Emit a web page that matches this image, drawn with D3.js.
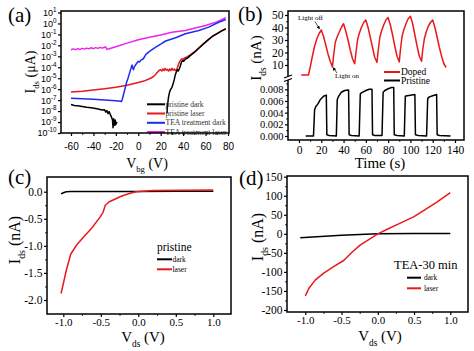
<!DOCTYPE html>
<html><head><meta charset="utf-8">
<script src="https://cdn.jsdelivr.net/npm/d3@7"></script>
<style>body{margin:0;background:#fff} svg{display:block}</style>
</head><body><svg id="c" width="474" height="351"></svg>
<script>
// ---------------- DATA ----------------
// Panel (a): Ids (µA) vs Vbg (V), log scale
const aXTicks = [-60,-40,-20,0,20,40,60,80];
const aXMinor = [-50,-30,-10,10,30,50,70];
const aYExp = [-10,-9,-8,-7,-6,-5,-4,-3,-2,-1,0,1];
const aPristineDarkNeg = [[-60,4e-8],[-57,3.3e-8],[-54,3e-8],[-50,2.6e-8],[-46,2.2e-8],[-42,2e-8],[-38,1.7e-8],[-35,1.5e-8],[-32,1.25e-8],[-30,1.3e-8],[-29,8e-9],[-28,1.1e-8],[-27,6e-9],[-26,9e-9],[-25,5e-9],[-24,3e-9],[-23,1.5e-9],[-22.5,3e-10],[-22,2e-9],[-21,5e-10],[-20.5,1.5e-9],[-20,6e-10],[-19,1e-9]];
const aPristineDarkPos = [[25.6,6e-9],[26,3e-8],[27,2e-7],[28,6e-7],[29,1e-6],[30,1.5e-6],[31,3e-6],[32,7e-6],[33,2e-5],[34,4e-5],[35,6e-5],[35.7,4.5e-5],[36.5,7e-5],[37.5,1.3e-4],[38.5,3e-4],[39.5,4e-4],[40.5,3.5e-4],[42,5.5e-4],[44,7e-4],[46,1.1e-3],[50,2.3e-3],[54,5.5e-3],[58,1.3e-2],[62,3e-2],[66,6.5e-2],[70,1.1e-1],[74,2e-1],[78,3.2e-1]];
const aPristineLaser = [[-60,5.5e-7],[-50,6.5e-7],[-40,8.5e-7],[-30,1.1e-6],[-20,1.5e-6],[-10,2.3e-6],[0,4e-6],[5,5.5e-6],[10,9e-6],[13,1.3e-5],[15,2e-5],[17,3.5e-5],[19,5.5e-5],[20,6e-5],[21,4.5e-5],[22,7e-5],[23,5e-5],[24,8e-5],[25,5.5e-5],[26,6.5e-5],[27,4.5e-5],[28,7e-5],[29,5e-5],[30,8e-5],[31,5.5e-5],[32,7e-5],[33,5e-5],[34,6e-5],[35,1e-4],[36,2e-4],[37,3.5e-4],[38,5e-4],[39,6e-4],[40,5e-4],[41,7e-4],[43,8.5e-4],[46,1.3e-3],[50,2.5e-3],[54,6e-3],[58,1.4e-2],[62,3e-2],[66,6.5e-2],[70,1.2e-1],[74,2e-1],[78,3.3e-1]];
const aTeaDark = [[-60,1.5e-7],[-50,1.35e-7],[-40,1.2e-7],[-30,1.05e-7],[-20,9e-8],[-16,8e-8],[-15,7.5e-8],[-14,1.5e-7],[-12.2,8e-7],[-10.5,4e-6],[-9.3,9e-6],[-8,2.5e-5],[-7,5.5e-5],[-6,1.2e-4],[-5.5,1.6e-4],[-5,9e-5],[-4.3,6e-5],[-3.5,1.1e-4],[-2.5,1.6e-4],[-1.5,2.2e-4],[0,3.5e-4],[1,3e-4],[2.4,4.5e-4],[4.5,6e-4],[6.8,1.5e-3],[10,2.8e-3],[15.6,7e-3],[20,1.3e-2],[24.4,2.5e-2],[33.3,5e-2],[42,1.15e-1],[54,2.3e-1],[62.8,4.6e-1],[71.7,1.3],[78,2.3]];
const aTeaLaser = [[-60,4e-3],[-58,4.8e-3],[-56,4.1e-3],[-54,5e-3],[-52,4.3e-3],[-50,5.3e-3],[-48,4.5e-3],[-46,5.6e-3],[-44,4.8e-3],[-42,6e-3],[-40,5e-3],[-38,6.2e-3],[-36,5.3e-3],[-34,6.5e-3],[-32,5.6e-3],[-30,6.8e-3],[-29,7.2e-3],[-28,4.2e-3],[-26,5e-3],[-20,7.5e-3],[-10,1.6e-2],[0,3.2e-2],[10,5.5e-2],[20,9e-2],[30,1.6e-1],[42,2.3e-1],[50,3.6e-1],[60,6.6e-1],[70,1.4],[78,3.3]];
const aLegend = ["pristine dark","pristine laser","TEA treatment dark","TEA treatment laser"];

// Panel (b): Ids (nA) vs time (s)
const bXTicks = [0,20,40,60,80,100,120,140];
const bXMinor = [10,30,50,70,90,110,130];
const bYUpperTicks = [10,20,30,40,50];
const bYUpperMinor = [15,25,35,45];
const bYLowerTicks = [0,0.002,0.004,0.006,0.008];
const bYLowerMinor = [0.001,0.003,0.005,0.007,0.009];
const bDoped = [[2,2],[8.5,2],[10,8],[12,17],[14,25],[16,31],[18,35],[20,38],[22,33],[24,26],[26,19],[28,13],[30,8.5],[31,17],[32.5,28],[34,32],[36,36],[38,40],[40,43],[42,37],[44,30],[46,22],[48,15],[50,11],[51,19],[52.5,30],[54,35],[56,40],[58,44],[60,46],[62,40],[64,32],[66,24],[68,16],[70,12],[71,21],[72.5,32],[74,37],[76,42],[78,46],[80,48],[82,42],[84,34],[86,25],[88,17],[90,12.5],[91,22],[92.5,33],[94,38],[96,43],[98,47],[100,49],[102,43],[104,34],[106,25],[108,17],[110,13],[111,22],[112.5,31],[114,36],[116,41],[118,44],[120,46],[122,40],[124,32],[126,24],[128,17],[130,11],[132,8]];
const bPristine = [[6,0],[13,0],[14,0.0045],[15,0.005],[17,0.0055],[19,0.0062],[22,0.0068],[24.5,0.007],[25,0.0002],[27,0.0001],[33.5,0],[34.3,0.0062],[35.5,0.0068],[38,0.0075],[41,0.0078],[44.5,0.0079],[45,0.0002],[47,0.0001],[54,0],[55,0.0072],[56,0.0074],[60,0.0078],[63,0.008],[65.5,0.008],[66,0.0002],[68,0.0001],[74.5,0.0001],[75.5,0.0075],[77,0.0078],[80,0.0081],[83,0.0083],[85,0.0083],[85.5,0.0002],[88,0.0001],[94.5,0],[95.4,0.0068],[97,0.0069],[100,0.007],[104,0.0071],[104.5,0.0002],[107,0.0001],[114.5,0],[115.5,0.0064],[117,0.0067],[120,0.0069],[123.5,0.0071],[124,0.0002],[126,0.0001],[136,0]];

// Panel (c): pristine I-V
const cTicks = [-1.0,-0.5,0.0,0.5,1.0];
const cMinor = [-0.75,-0.25,0.25,0.75];
const cYTicks = [0.0,-0.5,-1.0,-1.5,-2.0];
const cYMinor = [-0.25,-0.75,-1.25,-1.75];
const cDark = [[-1.03,-0.04],[-1.0,-0.02],[-0.96,0],[-0.9,0.005],[0,0.005],[0.5,0.01],[1.0,0.01]];
const cLaser = [[-1.03,-1.88],[-1.0,-1.7],[-0.96,-1.45],[-0.9,-1.15],[-0.82,-0.98],[-0.75,-0.87],[-0.62,-0.67],[-0.51,-0.47],[-0.47,-0.38],[-0.44,-0.25],[-0.38,-0.18],[-0.3,-0.13],[-0.22,-0.08],[-0.11,-0.03],[-0.03,0],[0.2,0.02],[1.0,0.03]];

// Panel (d): TEA-30 min I-V
const dYTicks = [150,100,50,0,-50,-100,-150,-200];
const dYMinor = [125,75,25,-25,-75,-125,-175];
const dDark = [[-1.07,-10],[-0.5,-4],[0,0],[0.5,1],[1.0,1]];
const dLaser = [[-1.0,-163],[-0.95,-143],[-0.86,-121],[-0.75,-104],[-0.61,-86],[-0.47,-70],[-0.36,-49],[-0.24,-29],[-0.13,-16],[0,0],[0.13,12],[0.31,28],[0.5,45],[0.68,67],[0.82,84],[1.0,108]];

// ---------------- DRAWING ----------------
const svg = d3.select("#c");
const SERIF = "'Liberation Serif','Times New Roman',serif";
const SANS = "'Liberation Sans',Arial,sans-serif";
const RED = "#e8191c", BLUE = "#1e2bf0", MAG = "#ee22ee";

function frame(x0,y0,x1,y1){
  svg.append("rect").attr("x",x0).attr("y",y0).attr("width",x1-x0).attr("height",y1-y0)
    .attr("fill","none").attr("stroke","#000").attr("stroke-width",1.5);
}
function makeAxis(kind, scale, major, minor, fmt, tx, ty, font, size, tickLen, pad){
  const A = (kind==='b'? d3.axisBottom(scale): d3.axisLeft(scale))
    .tickValues(major).tickSize(tickLen).tickPadding(pad).tickFormat(fmt);
  const g = svg.append("g").attr("transform",`translate(${tx},${ty})`).call(A);
  g.select(".domain").remove();
  g.selectAll(".tick line").attr("stroke","#000").attr("stroke-width",1.2);
  g.selectAll(".tick text").attr("font-family",font).attr("font-size",size).attr("fill","#000");
  if(minor && minor.length){
    const M = (kind==='b'? d3.axisBottom(scale): d3.axisLeft(scale))
      .tickValues(minor).tickSize(tickLen*0.6).tickFormat(()=>"");
    const gm = svg.append("g").attr("transform",`translate(${tx},${ty})`).call(M);
    gm.select(".domain").remove();
    gm.selectAll(".tick line").attr("stroke","#000").attr("stroke-width",1);
  }
  return g;
}
function title(x,y,rot,parts,size){
  const t = svg.append("text").attr("transform",`translate(${x},${y}) rotate(${rot})`)
    .attr("text-anchor","middle").attr("font-family",SERIF).attr("font-size",size).attr("fill","#000");
  let shift = 0;
  parts.forEach(([s,k])=>{
    const want = k==='sub'? size*0.32 : 0;
    const ts = t.append("tspan").text(s).attr("dy", want-shift);
    if(k==='sub') ts.attr("font-size", size*0.62);
    shift = want;
  });
}
function label(x,y,s,size,opts={}){
  return svg.append("text").attr("x",x).attr("y",y).text(s)
    .attr("font-family",opts.font||SERIF).attr("font-size",size)
    .attr("text-anchor",opts.anchor||"start").attr("fill",opts.fill||"#000");
}
function path(data, x, y, color, w){
  svg.append("path").datum(data).attr("fill","none").attr("stroke",color)
    .attr("stroke-width",w||1.5).attr("stroke-linejoin","round")
    .attr("d", d3.line().x(d=>x(d[0])).y(d=>y(d[1])));
}

// ----- Panel (a)
{
  const x0=61,x1=229,y0=11,y1=133;
  const x = d3.scaleLinear().domain([-60,80]).range([71,228]);
  const y = d3.scaleLog().domain([1e-10,10]).range([133,12.5]);
  path(aPristineLaser,x,y,RED);
  path(aTeaLaser,x,y,MAG);
  path(aTeaDark,x,y,BLUE);
  path(aPristineDarkNeg,x,y,"#000");
  path(aPristineDarkPos,x,y,"#000");
  makeAxis('b',x,aXTicks,aXMinor,d=>String(d),0,y1,SANS,10,3,7);
  const gy = makeAxis('l',y,aYExp.map(e=>Math.pow(10,e)),[],()=>"",x0,0,SANS,9,3,1.5);
  gy.selectAll(".tick text").each(function(d){
    const t = d3.select(this);
    t.text("10");
    t.append("tspan").attr("dy",-4).attr("font-size",6.3).text(String(Math.round(Math.log10(d))));
  });
  // legend
  const colors = ["#000",RED,BLUE,MAG];
  const ly = [104.3,113.5,122.8,132];
  aLegend.forEach((s,i)=>{
    svg.append("line").attr("x1",147).attr("x2",165).attr("y1",ly[i]).attr("y2",ly[i])
      .attr("stroke",colors[i]).attr("stroke-width",2);
    label(165.5,ly[i]+2.6,s,7.6,{fill:"#333"});
  });
  frame(x0,y0,x1,y1);
  title(147,168,0,[["V",""],["bg","sub"],[" (V)",""]],14);
  title(35,72,-90,[["I",""],["ds","sub"],[" (μA)",""]],14);
  label(8,22,"(a)",21);
}

// ----- Panel (b)
{
  const x0=288,x1=464,y0=11,y1=140;
  const x = d3.scaleLinear().domain([0,140]).range([299,455]);
  const yU = d3.scaleLinear().domain([10,50]).range([65,15]);
  const yL = d3.scaleLinear().domain([0,0.008]).range([136,89.3]);
  path(bDoped,x,yU,RED);
  path(bPristine,x,yL,"#000");
  makeAxis('b',x,bXTicks,bXMinor,d=>String(d),0,y1,SERIF,11.5,3,2.5);
  makeAxis('l',yU,bYUpperTicks,bYUpperMinor,d=>String(d),x0,0,SERIF,11.5,3,1.5);
  makeAxis('l',yL,bYLowerTicks,bYLowerMinor,d=>d.toFixed(3),x0,0,SERIF,10.5,3,1.5);
  frame(x0,y0,x1,y1);
  // axis break
  svg.append("rect").attr("x",x0-2).attr("y",76.5).attr("width",4).attr("height",3.5).attr("fill","#fff");
  svg.append("line").attr("x1",x0-4).attr("y1",78).attr("x2",x0+4).attr("y2",75).attr("stroke","#000").attr("stroke-width",1.2);
  svg.append("line").attr("x1",x0-4).attr("y1",81.5).attr("x2",x0+4).attr("y2",78.5).attr("stroke","#000").attr("stroke-width",1.2);
  // legend
  svg.append("line").attr("x1",384).attr("x2",400).attr("y1",72).attr("y2",72).attr("stroke",RED).attr("stroke-width",2);
  label(401,75,"Doped",9.5);
  svg.append("line").attr("x1",384).attr("x2",400).attr("y1",80.5).attr("y2",80.5).attr("stroke","#000").attr("stroke-width",2);
  label(401,83.5,"Pristine",9.5);
  // annotations
  const defs = svg.append("defs");
  defs.append("marker").attr("id","arr").attr("viewBox","0 0 10 10").attr("refX",9).attr("refY",5)
    .attr("markerWidth",5).attr("markerHeight",5).attr("orient","auto")
    .append("path").attr("d","M0,0L10,5L0,10z").attr("fill","#000");
  label(298,20,"Light off",7);
  svg.append("line").attr("x1",315).attr("y1",21.5).attr("x2",319.5).attr("y2",29).attr("stroke","#000").attr("stroke-width",0.7).attr("marker-end","url(#arr)");
  label(335,78,"Light on",7);
  svg.append("line").attr("x1",337).attr("y1",73).attr("x2",333).attr("y2",67.5).attr("stroke","#000").attr("stroke-width",0.7).attr("marker-end","url(#arr)");
  title(380,168,0,[["Time (s)",""]],15);
  title(261,58,-90,[["I",""],["ds","sub"],[" (nA)",""]],15);
  label(238,21,"(b)",21);
}

// ----- Panel (c)
{
  const x0=47,x1=231,y0=177,y1=314;
  const x = d3.scaleLinear().domain([-1,1]).range([63.3,213.3]);
  const y = d3.scaleLinear().domain([0,-2]).range([191.7,300]);
  path(cDark,x,y,"#000");
  path(cLaser,x,y,RED);
  makeAxis('b',x,cTicks,cMinor,d=>d.toFixed(1),0,y1,SERIF,11,3,1.5);
  makeAxis('l',y,cYTicks,cYMinor,d=>d.toFixed(1),x0,0,SERIF,11.5,3,1.5);
  frame(x0,y0,x1,y1);
  label(157,250.5,"pristine",11.5);
  svg.append("line").attr("x1",157).attr("x2",172).attr("y1",259.3).attr("y2",259.3).attr("stroke","#000").attr("stroke-width",2);
  label(172.5,262,"dark",7.5);
  svg.append("line").attr("x1",157).attr("x2",172).attr("y1",269.3).attr("y2",269.3).attr("stroke",RED).attr("stroke-width",2);
  label(172.5,272,"laser",7.5);
  title(143,342,0,[["V",""],["ds","sub"],[" (V)",""]],15);
  title(19.5,240,-90,[["I",""],["ds","sub"],[" (nA)",""]],16);
  label(8,184,"(c)",21);
}

// ----- Panel (d)
{
  const x0=287,x1=468,y0=176,y1=312;
  const x = d3.scaleLinear().domain([-1,1]).range([305.3,450.3]);
  const y = d3.scaleLinear().domain([150,-200]).range([176.7,310]);
  path(dDark,x,y,"#000");
  path(dLaser,x,y,RED);
  makeAxis('b',x,cTicks,cMinor,d=>d.toFixed(1),0,y1,SERIF,11,3,1.5);
  makeAxis('l',y,dYTicks,dYMinor,d=>String(d),x0,0,SERIF,11.5,3,1.5);
  frame(x0,y0,x1,y1);
  label(394,268.5,"TEA-30 min",12.5);
  svg.append("line").attr("x1",407).attr("x2",421).attr("y1",277.7).attr("y2",277.7).attr("stroke","#000").attr("stroke-width",2);
  label(424,280.3,"dark",7.5);
  svg.append("line").attr("x1",407).attr("x2",421).attr("y1",288.3).attr("y2",288.3).attr("stroke",RED).attr("stroke-width",2);
  label(424,291,"laser",7.5);
  title(380,341,0,[["V",""],["ds","sub"],[" (V)",""]],15);
  title(263,237,-90,[["I",""],["ds","sub"],[" (nA)",""]],16);
  label(239,185,"(d)",21);
}
</script></body></html>
